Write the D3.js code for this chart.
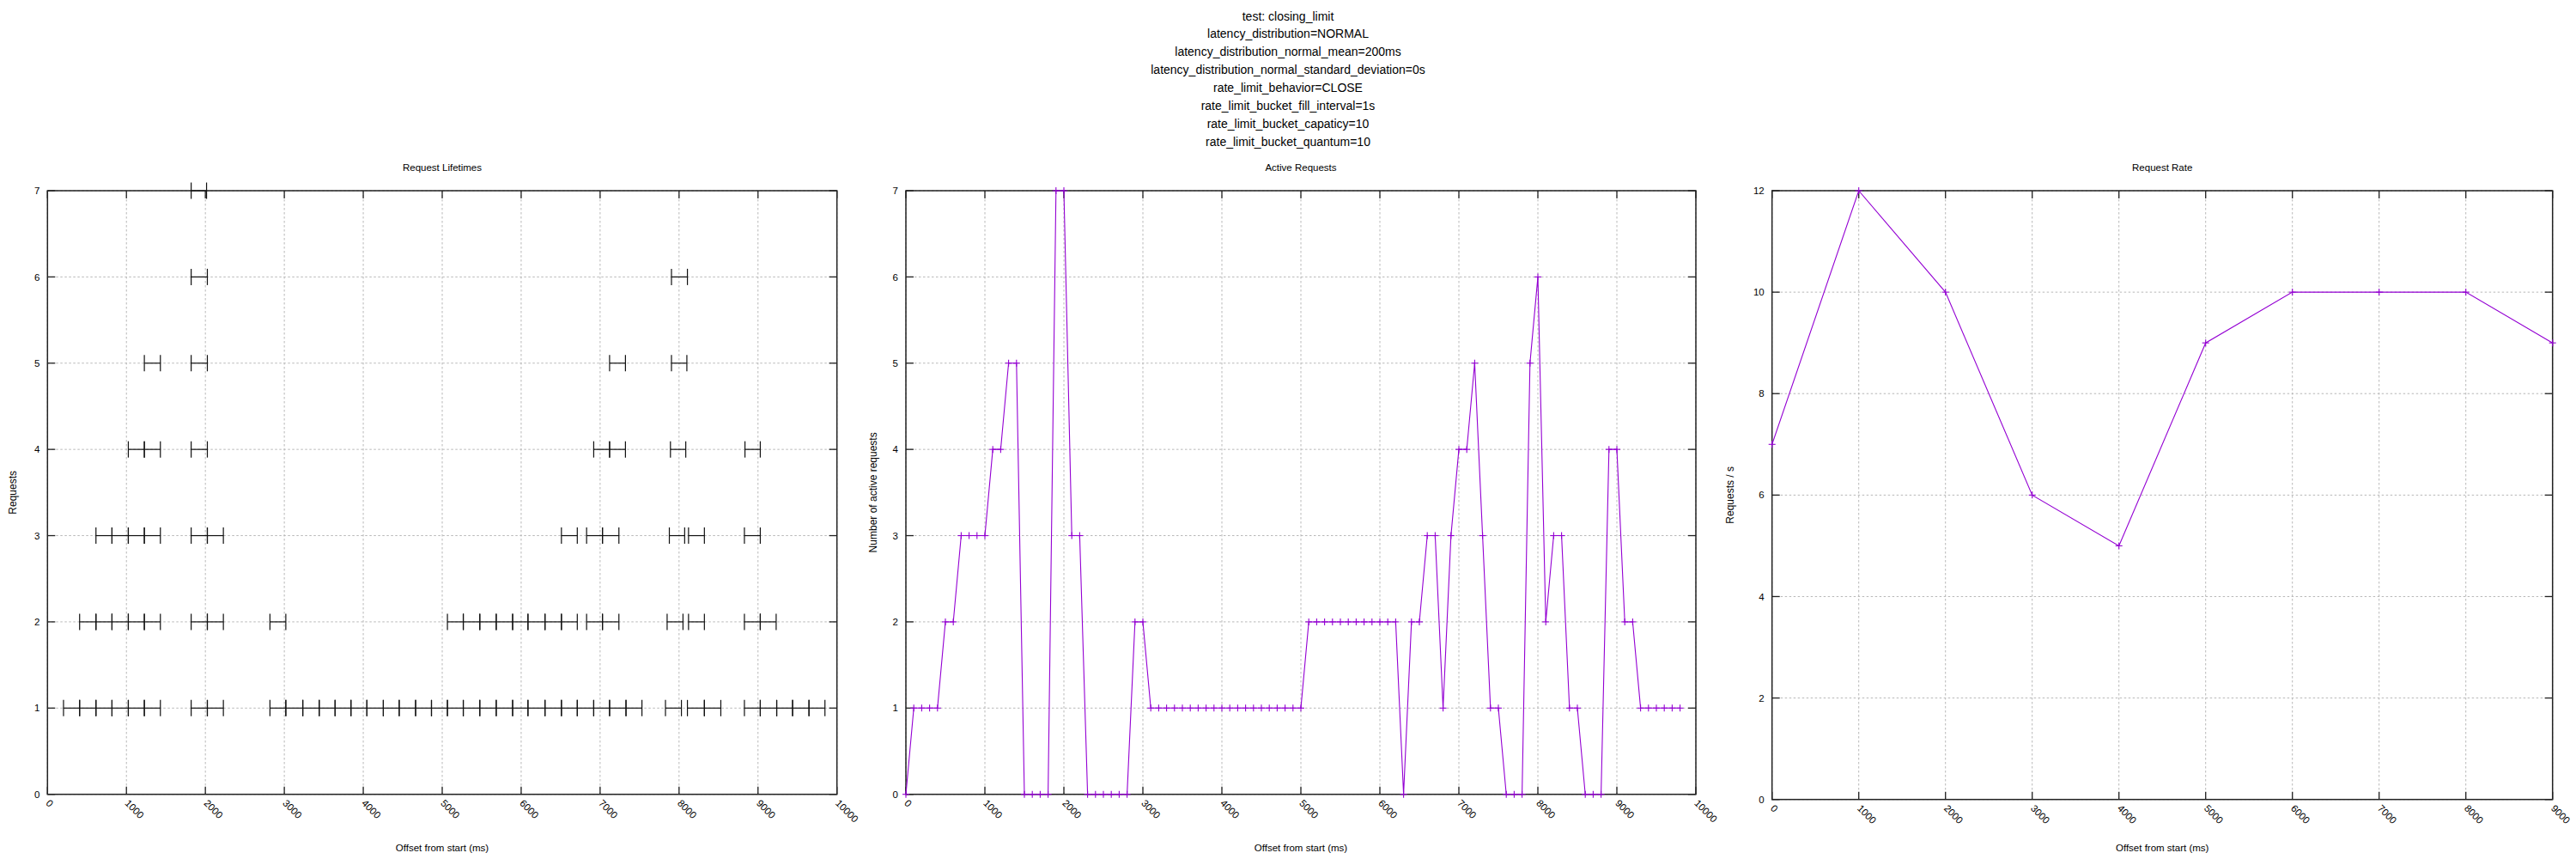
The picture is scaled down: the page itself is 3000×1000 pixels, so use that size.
<!DOCTYPE html>
<html><head><meta charset="utf-8">
<script src="https://cdn.jsdelivr.net/npm/d3@7/dist/d3.min.js"></script>
<style>
body{margin:0;background:#fff}
text{font-family:"Liberation Sans",Arial,sans-serif;fill:#000}
</style>
</head><body>
<svg id="chart" width="3000" height="1000"></svg>
<script>
// ---------- DATA ----------
const titleLines = [
  "test: closing_limit",
  "latency_distribution=NORMAL",
  "latency_distribution_normal_mean=200ms",
  "latency_distribution_normal_standard_deviation=0s",
  "rate_limit_behavior=CLOSE",
  "rate_limit_bucket_fill_interval=1s",
  "rate_limit_bucket_capaticy=10",
  "rate_limit_bucket_quantum=10"
];

// Request lifetimes: for each lane, groups of consecutive bar boundaries (ms)
const lane1 = [[203,407,614,817,1024,1227,1430],[1820,2025,2228],
  [2818,3019,3234,3442,3643,3844,4046,4254,4455,4663,4864,5066,5267,5476,5684,5892,6086,6302,6510,6711,6919,7120,7328,7530],
  [7828,8030],[8106,8321,8529],[8828,9029,9237,9438,9646,9848]];
const lane2 = [[407,614,817,1024,1227,1430],[1820,2025,2228],[2818,3019],
  [5066,5267,5476,5684,5892,6086,6302,6510,6711],[6829,7030,7238],[7849,8050],[8120,8321],[8828,9029,9230]];
const lane3 = [[614,817,1024,1227,1430],[1820,2025,2228],[6510,6711],[6829,7030,7238],[7877,8071],[8120,8321],[8828,9029]];
const lane4 = [[1024,1227,1430],[1820,2025],[6919,7120,7321],[7891,8085],[8835,9029]];
const lane5 = [[1227,1430],[1820,2025],[7120,7321],[7904,8099]];
const lane6 = [[1820,2025],[7904,8106]];
const lane7 = [[1820,2015]];
const lanes = [lane1,lane2,lane3,lane4,lane5,lane6,lane7];

// Active requests sampled every 100 ms
const activeTime = [0,100,200,300,400,500,600,700,800,900,1000,1100,1200,1300,1400,1500,1600,1700,1800,1900,
  2000,2100,2200,2300,2400,2500,2600,2700,2800,2900,3000,3100,3200,3300,3400,3500,3600,3700,3800,3900,
  4000,4100,4200,4300,4400,4500,4600,4700,4800,4900,5000,5100,5200,5300,5400,5500,5600,5700,5800,5900,
  6000,6100,6200,6300,6400,6500,6600,6700,6800,6900,7000,7100,7200,7300,7400,7500,7600,7700,7800,7900,
  8000,8100,8200,8300,8400,8500,8600,8700,8800,8900,9000,9100,9200,9300,9400,9500,9600,9700,9800];
const activeCount = [0,1,1,1,1,2,2,3,3,3, 3,4,4,5,5,0,0,0,0,7,
  7,3,3,0,0,0,0,0,0,2, 2,1,1,1,1,1,1,1,1,1,
  1,1,1,1,1,1,1,1,1,1, 1,2,2,2,2,2,2,2,2,2,
  2,2,2,0,2,2,3,3,1,3, 4,4,5,3,1,1,0,0,0,5,
  6,2,3,3,1,1,0,0,0,4, 4,2,2,1,1,1,1,1,1];

// Request rate per second
const rateTime = [0,1000,2000,3000,4000,5000,6000,7000,8000,9000];
const rateValue = [7,12,10,6,5,9,10,10,10,9];

const xTicks10k = [0,1000,2000,3000,4000,5000,6000,7000,8000,9000,10000];
const xTicks9k = [0,1000,2000,3000,4000,5000,6000,7000,8000,9000];
const yTicks7 = [0,1,2,3,4,5,6,7];
const yTicks12 = [0,2,4,6,8,10,12];

// ---------- DRAW ----------
const svg = d3.select("#chart");
svg.append("rect").attr("width",3000).attr("height",1000).attr("fill","#fff");

const PURPLE = "#9400d3";
const SMALL = 11.5;

svg.append("g").selectAll("text").data(titleLines).join("text")
  .attr("x",1500).attr("y",(d,i)=>18.5 + i*20.95)
  .attr("text-anchor","middle").attr("dominant-baseline","central")
  .style("font-size","14px").text(d=>d);

function panel(o){
  const g = svg.append("g");
  const x = d3.scaleLinear().domain(o.xDomain).range([o.left,o.right]);
  const y = d3.scaleLinear().domain(o.yDomain).range([o.bottom,o.top]);
  // grid
  g.append("g").selectAll("line").data(o.xTicks).join("line")
    .attr("x1",d=>x(d)).attr("x2",d=>x(d)).attr("y1",o.top).attr("y2",o.bottom)
    .attr("stroke","#b8b8b8").attr("stroke-width",1).attr("stroke-dasharray","2.5,2.5");
  g.append("g").selectAll("line").data(o.yTicks).join("line")
    .attr("y1",d=>y(d)).attr("y2",d=>y(d)).attr("x1",o.left).attr("x2",o.right)
    .attr("stroke","#b8b8b8").attr("stroke-width",1).attr("stroke-dasharray","2.5,2.5");
  // ticks (inward, mirrored)
  const T = 9;
  const tk = g.append("g").attr("stroke","#222").attr("stroke-width",1.3);
  o.xTicks.forEach(d=>{
    tk.append("line").attr("x1",x(d)).attr("x2",x(d)).attr("y1",o.bottom).attr("y2",o.bottom-T);
    tk.append("line").attr("x1",x(d)).attr("x2",x(d)).attr("y1",o.top).attr("y2",o.top+T);
  });
  o.yTicks.forEach(d=>{
    tk.append("line").attr("y1",y(d)).attr("y2",y(d)).attr("x1",o.left).attr("x2",o.left+T);
    tk.append("line").attr("y1",y(d)).attr("y2",y(d)).attr("x1",o.right).attr("x2",o.right-T);
  });
  // tick labels
  g.append("g").selectAll("text").data(o.xTicks).join("text")
    .attr("transform",d=>`translate(${x(d)-2.5},${o.bottom+11}) rotate(45)`)
    .attr("text-anchor","start").style("font-size",SMALL+"px").text(d=>d);
  g.append("g").selectAll("text").data(o.yTicks).join("text")
    .attr("x",o.left-9).attr("y",d=>y(d)).attr("dy","0.36em")
    .attr("text-anchor","end").style("font-size",SMALL+"px").text(d=>d);
  // labels
  g.append("text").attr("x",(o.left+o.right)/2).attr("y",195).attr("text-anchor","middle")
    .attr("dominant-baseline","central").style("font-size",SMALL+"px").text(o.title);
  g.append("text").attr("x",(o.left+o.right)/2).attr("y",987).attr("text-anchor","middle")
    .attr("dominant-baseline","central").style("font-size",SMALL+"px").text("Offset from start (ms)");
  g.append("text").attr("transform",`translate(${o.yLabelX},${(o.top+o.bottom)/2}) rotate(-90)`)
    .attr("text-anchor","middle").attr("dominant-baseline","central")
    .style("font-size","12px").text(o.yLabel);
  return {g,x,y,o};
}

function border(p){
  const o = p.o;
  p.g.append("rect").attr("x",o.left).attr("y",o.top)
    .attr("width",o.right-o.left).attr("height",o.bottom-o.top)
    .attr("fill","none").attr("stroke","#222").attr("stroke-width",1.5);
}

function plus(g, px, py){
  g.append("line").attr("x1",px-4).attr("x2",px+4).attr("y1",py).attr("y2",py);
  g.append("line").attr("x1",px).attr("x2",px).attr("y1",py-4).attr("y2",py+4);
}

// ----- Panel 1: Request Lifetimes -----
const p1 = panel({left:55.3,right:974.7,top:222,bottom:924.7,xDomain:[0,10000],yDomain:[0,7],
  xTicks:xTicks10k,yTicks:yTicks7,title:"Request Lifetimes",yLabel:"Requests",yLabelX:15});
border(p1);
const lg = p1.g.append("g").attr("stroke","#111").attr("stroke-width",1.2);
lanes.forEach((groups,li)=>{
  const lane = li+1, ly = p1.y(lane);
  groups.forEach(gr=>{
    for(let i=0;i<gr.length-1;i++){
      const a = p1.x(gr[i]), b = p1.x(gr[i+1]);
      lg.append("line").attr("x1",a).attr("x2",b).attr("y1",ly).attr("y2",ly);
      lg.append("line").attr("x1",a).attr("x2",a).attr("y1",ly-9.5).attr("y2",ly+9.5);
      lg.append("line").attr("x1",b).attr("x2",b).attr("y1",ly-9.5).attr("y2",ly+9.5);
    }
  });
});

// ----- Panel 2: Active Requests -----
const p2 = panel({left:1055,right:1975,top:222,bottom:924.7,xDomain:[0,10000],yDomain:[0,7],
  xTicks:xTicks10k,yTicks:yTicks7,title:"Active Requests",yLabel:"Number of active requests",yLabelX:1016.5});
border(p2);
const act = activeTime.map((t,i)=>[t,activeCount[i]]);
p2.g.append("path").datum(act)
  .attr("d",d3.line().x(d=>p2.x(d[0])).y(d=>p2.y(d[1])))
  .attr("fill","none").attr("stroke",PURPLE).attr("stroke-width",1.1);
const m2 = p2.g.append("g").attr("stroke",PURPLE).attr("stroke-width",1.1);
act.forEach(d=>plus(m2,p2.x(d[0]),p2.y(d[1])));

// ----- Panel 3: Request Rate -----
const p3 = panel({left:2063.7,right:2972.7,top:222,bottom:930.7,xDomain:[0,9000],yDomain:[0,12],
  xTicks:xTicks9k,yTicks:yTicks12,title:"Request Rate",yLabel:"Requests / s",yLabelX:2015});
border(p3);
const rate = rateTime.map((t,i)=>[t,rateValue[i]]);
p3.g.append("path").datum(rate)
  .attr("d",d3.line().x(d=>p3.x(d[0])).y(d=>p3.y(d[1])))
  .attr("fill","none").attr("stroke",PURPLE).attr("stroke-width",1.1);
const m3 = p3.g.append("g").attr("stroke",PURPLE).attr("stroke-width",1.1);
rate.forEach(d=>plus(m3,p3.x(d[0]),p3.y(d[1])));
</script>
</body></html>
